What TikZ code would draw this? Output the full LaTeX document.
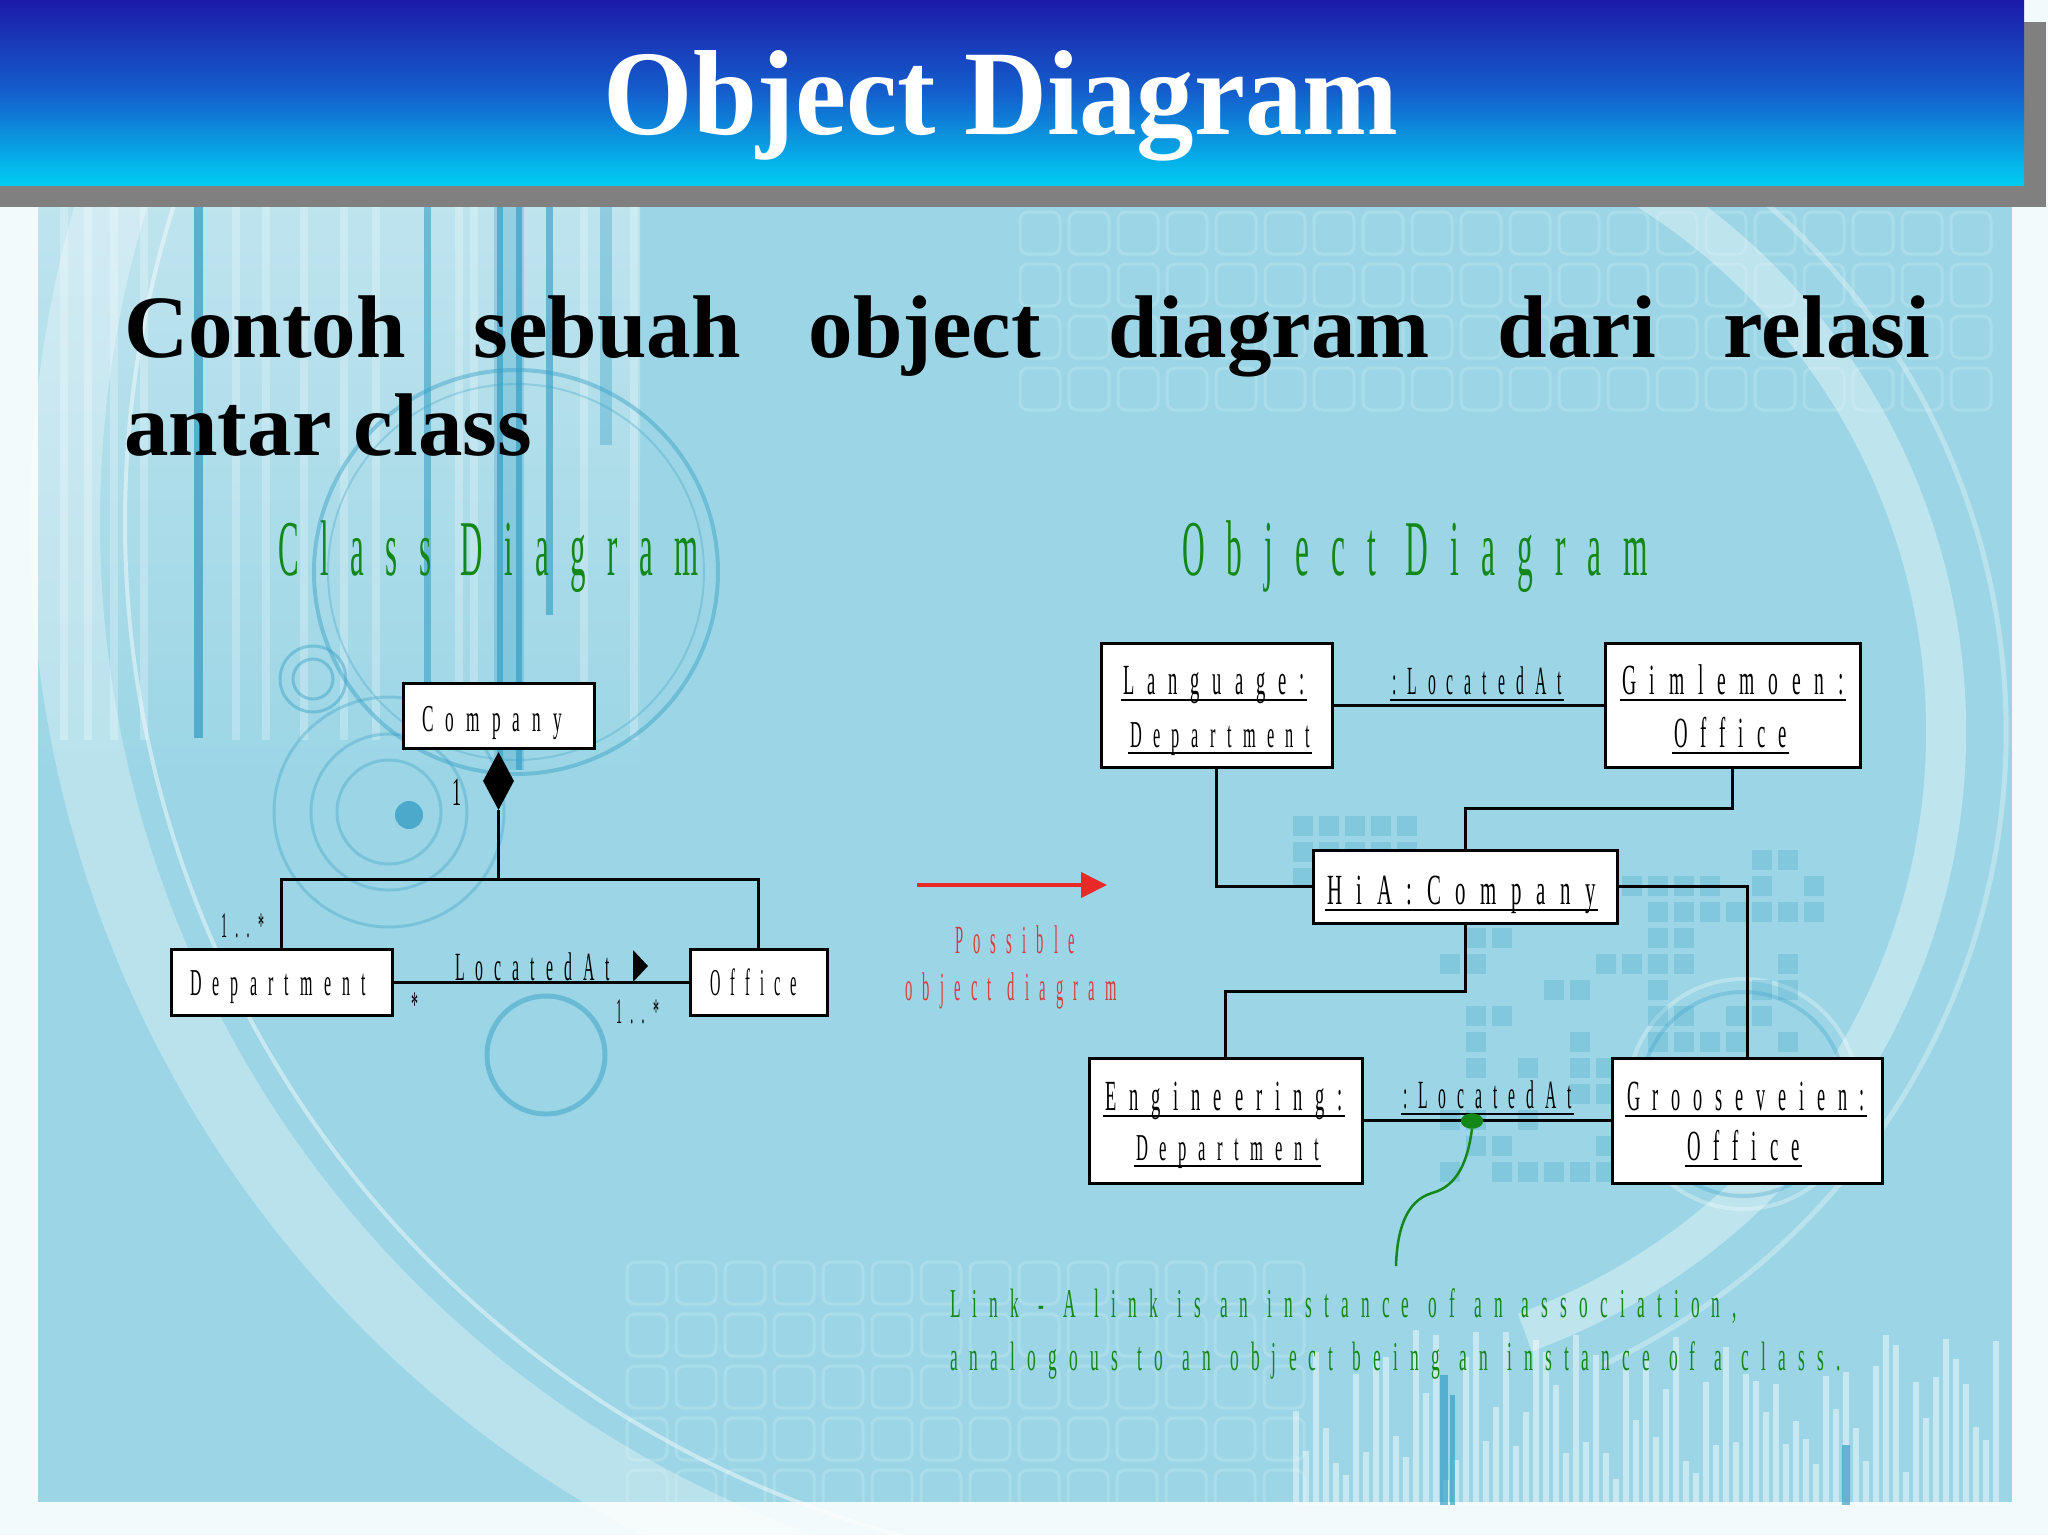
\documentclass[tikz,border=0pt]{standalone}
\usepackage{fontspec}
\usepackage{graphicx}
\setmainfont{Liberation Serif}
\newfontfamily\lsf[LetterSpace=70]{Liberation Serif}
\usetikzlibrary{shapes.geometric,arrows.meta}
\definecolor{ttlA}{RGB}{28,26,168}
\definecolor{ttlB}{RGB}{20,95,205}
\definecolor{ttlC}{RGB}{0,205,242}
\definecolor{bgblue}{RGB}{156,214,230}
\definecolor{tealA}{RGB}{55,160,198}
\definecolor{ggreen}{RGB}{20,135,25}
\definecolor{rred}{RGB}{235,40,40}
\definecolor{rtext}{RGB}{215,60,60}
\newcommand\sq[3]{\resizebox{#1pt}{\height}{\lsf\fontsize{#2pt}{#2pt}\selectfont #3}}
\newcommand\sqw[3]{\resizebox{#1pt}{\height}{\lsf\fontsize{#2pt}{#2pt}\selectfont\spaceskip=1.1em\relax #3}}
\newcommand\ulof[1]{\draw[ulline] ([xshift=-2pt,yshift=-6pt]#1.base west) -- ([xshift=2pt,yshift=-6pt]#1.base east);}
\tikzset{
  box/.style={draw=black, fill=white, line width=3pt, inner sep=0pt, outer sep=0pt},
  lbl/.style={anchor=base west, inner sep=0pt, outer sep=0pt},
  conn/.style={line width=3pt, draw=black},
  ulline/.style={line width=2.5pt, draw=black},
}
\begin{document}
\begin{tikzpicture}[x=1pt,y=-1pt]
\useasboundingbox (0,0) rectangle (2048,1535);
% ---------- background ----------
\fill[white!88!bgblue] (0,0) rectangle (2048,1535);
\fill[bgblue] (38,207) rectangle (2012,1502);
\shade[top color=white, bottom color=bgblue, opacity=0.35] (38,207) rectangle (640,780);
\foreach \x in {60,84,110,140,232,262,300,340,372,455,470,580,630}
  \fill[white, opacity=0.25] (\x,207) rectangle (\x+8,740);
\fill[tealA, opacity=0.75] (194,207) rectangle (203,738);
\fill[tealA, opacity=0.6] (424,207) rectangle (431,695);
\fill[tealA, opacity=0.3] (494,207) rectangle (524,770);
\fill[tealA, opacity=0.7] (497,207) rectangle (503,770);
\fill[tealA, opacity=0.7] (516,207) rectangle (522,770);
\fill[tealA, opacity=0.65] (546,207) rectangle (553,615);
\fill[tealA, opacity=0.35] (600,207) rectangle (612,445);
% big arcs
\draw[white, opacity=0.3, line width=70pt] (1175,522) ++(215:1110) arc[start angle=215, end angle=100, radius=1110];
\draw[white, opacity=0.45, line width=4pt] (1175,522) ++(215:1050) arc[start angle=215, end angle=100, radius=1050];
\draw[white, opacity=0.35, line width=40pt] (1306,731) ++(-62:640) arc[start angle=-62, end angle=70, radius=640];
\draw[white, opacity=0.3, line width=5pt] (1306,731) ++(-62:700) arc[start angle=-62, end angle=65, radius=700];
% rings
\draw[tealA, opacity=0.45, line width=4pt] (516,572) circle[radius=202];
\draw[tealA, opacity=0.3, line width=2pt] (516,572) circle[radius=188];
\foreach \r in {52,78,115} \draw[tealA, opacity=0.35, line width=3pt] (389,812) circle[radius=\r];
\foreach \r in {20,33} \draw[tealA, opacity=0.45, line width=3pt] (313,679) circle[radius=\r];
\fill[tealA, opacity=0.8] (409,815) circle[radius=14];
\draw[tealA, opacity=0.5, line width=5pt] (546,1055) circle[radius=59];
\draw[tealA, opacity=0.3, line width=4pt] (1743,1094) circle[radius=102];
\draw[white, opacity=0.3, line width=4pt] (1743,1094) circle[radius=115];
% rounded squares
\foreach \i in {0,...,19} \foreach \j in {0,...,3}
  \draw[white, opacity=0.15, line width=3pt, rounded corners=8pt] (1020+\i*49,212+\j*52) rectangle ++(40,42);
\foreach \i in {0,...,13} \foreach \j in {0,...,4}
  \draw[white, opacity=0.15, line width=3pt, rounded corners=8pt] (627+\i*49,1262+\j*52) rectangle ++(40,42);
% square grid
\pgfmathsetseed{7}
\foreach \i in {0,...,14} \foreach \j in {0,...,12} {
  \pgfmathparse{rnd}
  \ifdim\pgfmathresult pt<0.4pt
    \fill[tealA, opacity=0.25] (1440+\i*26,850+\j*26) rectangle ++(20,20);
  \fi}
\foreach \i in {0,...,4} \foreach \j in {0,...,2}
  \fill[tealA, opacity=0.25] (1293+\i*26,816+\j*26) rectangle ++(20,20);
% bar chart
\foreach \k in {0,...,70} {
  \pgfmathsetmacro\hh{25+150*rnd}
  \fill[white, opacity=0.45] (1293+\k*10,1505) rectangle ++(6,-\hh);}
\fill[tealA, opacity=0.7] (1440,1505) rectangle ++(8,-130);
\fill[tealA, opacity=0.7] (1450,1505) rectangle ++(5,-110);
\fill[tealA, opacity=0.7] (1842,1505) rectangle ++(8,-60);
% ---------- banner ----------
\fill[gray] (0,22) rectangle (2046,207);
\shade[top color=ttlA, bottom color=ttlC, middle color=ttlB] (0,0) rectangle (2024,185);
\node[anchor=base, inner sep=0pt] (title) at (1001,134)
  {\scalebox{0.95}[1]{\fontsize{121pt}{121pt}\selectfont\bfseries\color{white}Object Diagram}};
% ---------- heading ----------
\node[lbl] (h1) at (124,357)
  {\fontsize{89pt}{89pt}\selectfont\bfseries\makebox[1806pt][s]{Contoh sebuah object diagram dari relasi}};
\node[lbl] (h2) at (124,455) {\fontsize{89pt}{89pt}\selectfont\bfseries antar class};
\node[lbl, text=ggreen] (cdt) at (278,575) {\sq{421}{79}{Class Diagram}};
\node[lbl, text=ggreen] (odt) at (1182,575) {\sq{466}{79}{Object Diagram}};
% ---------- class diagram ----------
\node[box, minimum width=191pt, minimum height=65pt] (comp) at (498.5,715.5) {};
\node[box, minimum width=221pt, minimum height=66pt] (dept) at (281.5,982) {};
\node[box, minimum width=137pt, minimum height=66pt] (office) at (758.5,982) {};
\node[diamond, fill=black, inner sep=0pt, minimum width=31pt, minimum height=58pt] (dia) at (498.5,781) {};
\coordinate (cj) at (498.5,879);
\draw[conn] (dia.south) -- (cj);
\draw[conn] (dept.north) |- (cj) -| (office.north);
\draw[conn] (dept.east) -- (office.west);
\fill[black] (633,950) -- (633,982) -- (648,966) -- cycle;
\node[lbl] (tcomp) at (422,731) {\sq{140}{38}{Company}};
\node[lbl] (tone) at (452,805) {\sq{9}{40}{1}};
\node[lbl] (tmulA) at (221,937) {\sq{43}{36}{1..*}};
\node[lbl] (tdept) at (190,995) {\sq{176}{38}{Department}};
\node[lbl] (tloc) at (455,980) {\sq{155}{40}{LocatedAt}};
\node[lbl] (toff) at (710,995) {\sq{87}{38}{Office}};
\node[lbl] (tstar) at (411,1016) {\sq{7}{36}{*}};
\node[lbl] (tmulB) at (616,1023) {\sq{43}{36}{1..*}};
% ---------- red arrow ----------
\coordinate (ra) at (917,885);
\coordinate (rb) at (1107,885);
\draw[rred, line width=4pt, -{Triangle[length=26pt,width=25pt]}] (ra) -- (rb);
\node[lbl, text=rtext] (poss) at (955,953) {\sq{120}{40}{Possible}};
\node[lbl, text=rtext] (posd) at (905,1000) {\sqw{212}{40}{object diagram}};
% ---------- object diagram ----------
\node[box, minimum width=231pt, minimum height=124pt] (lang) at (1216.5,705) {};
\node[box, minimum width=255pt, minimum height=124pt] (gim) at (1732.5,705) {};
\node[box, minimum width=304pt, minimum height=73pt] (hia) at (1465,886.5) {};
\node[box, minimum width=273pt, minimum height=125pt] (eng) at (1225.5,1120.5) {};
\node[box, minimum width=270pt, minimum height=125pt] (groos) at (1747,1120.5) {};
\draw[conn] (lang.east) -- (gim.west);
\draw[conn] (lang.south) |- (hia.west);
\draw[conn] (gim.south) -- ++(0,41) -| (hia.north);
\draw[conn] (hia.east) -| (groos.north);
\draw[conn] (hia.south) -- ++(0,68) -| (eng.north);
\draw[conn] (eng.east) -- (groos.west);
\node[lbl] (tl1) at (1123,694) {\sq{182}{43}{Language:}};
\node[lbl] (tl2) at (1130,747) {\sq{180}{38}{Department}};
\node[lbl] (tla) at (1392,694) {\sq{170}{40}{:LocatedAt}};
\node[lbl] (tg1) at (1622,694) {\sq{222}{43}{Gimlemoen:}};
\node[lbl] (tg2) at (1674,747) {\sq{113}{43}{Office}};
\node[lbl] (th) at (1327,904) {\sq{269}{43}{HiA:Company}};
\node[lbl] (te1) at (1105,1110) {\sq{238}{43}{Engineering:}};
\node[lbl] (te2) at (1136,1160) {\sq{183}{38}{Department}};
\node[lbl] (tlb) at (1403,1108) {\sq{169}{40}{:LocatedAt}};
\node[lbl] (tr1) at (1627,1110) {\sq{238}{43}{Grooseveien:}};
\node[lbl] (tr2) at (1687,1160) {\sq{113}{43}{Office}};
\ulof{tl1}\ulof{tl2}\ulof{tla}\ulof{tg1}\ulof{tg2}\ulof{th}
\ulof{te1}\ulof{te2}\ulof{tlb}\ulof{tr1}\ulof{tr2}
% ---------- link note ----------
\node[ellipse, fill=ggreen, draw=ggreen, inner sep=0pt, minimum width=22pt, minimum height=15pt] (dot) at (1472,1121) {};
\coordinate (cend) at (1396,1266);
\draw[ggreen, line width=2.5pt] (dot.south) .. controls (1468,1160) and (1458,1186) .. (1432,1193)
  .. controls (1405,1201) and (1397,1232) .. (cend);
\node[lbl, text=ggreen] (n1) at (950,1317) {\sqw{787}{41}{Link - A link is an instance of an association,}};
\node[lbl, text=ggreen] (n2) at (950,1370) {\sqw{891}{41}{analogous to an object being an instance of a class.}};
\end{tikzpicture}
\end{document}
